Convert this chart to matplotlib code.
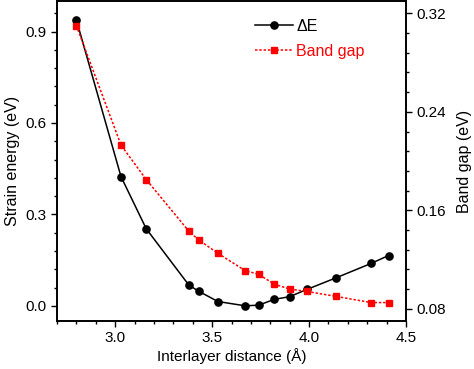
import numpy as np
import matplotlib
matplotlib.use('Agg')
import matplotlib.pyplot as plt
from matplotlib.ticker import MultipleLocator, AutoMinorLocator

plt.rcParams['font.family'] = ['Liberation Sans', 'DejaVu Sans']

# interlayer distance (A)
distance = [2.80, 3.03, 3.16, 3.38, 3.43, 3.53, 3.67, 3.74, 3.82, 3.90, 3.99, 4.14, 4.32, 4.41]
# strain energy dE (eV)
strain = [0.938, 0.424, 0.253, 0.068, 0.048, 0.014, 0.000, 0.002, 0.021, 0.030, 0.054, 0.092, 0.139, 0.165]
# band gap (eV)
gap = [0.310, 0.213, 0.185, 0.143, 0.136, 0.125, 0.111, 0.108, 0.100, 0.096, 0.094, 0.090, 0.085, 0.085]

fig = plt.figure(figsize=(4.74, 3.69), dpi=100)
ax = fig.add_axes([0.1203, 0.130, 0.7362, 0.867])
ax2 = ax.twinx()

l1, = ax.plot(distance, strain, '-o', color='black', lw=1.1, ms=5.2, label='ΔE')
l2, = ax2.plot(distance, gap, 's', ls=(0, (1.6, 1.2)), color='#ff0000', lw=1.1, ms=4.6, label='Band gap')

ax.set_xlim(2.7, 4.5)
ax.set_ylim(-0.05, 1.0)
ax2.set_ylim(0.07, 0.33)

ax.xaxis.set_major_locator(MultipleLocator(0.5))
ax.xaxis.set_minor_locator(MultipleLocator(0.1))
ax.yaxis.set_major_locator(MultipleLocator(0.3))
ax.yaxis.set_minor_locator(AutoMinorLocator(5))
ax2.yaxis.set_major_locator(MultipleLocator(0.08))
ax2.yaxis.set_minor_locator(AutoMinorLocator(5))
ax.xaxis.set_major_formatter(plt.FormatStrFormatter('%.1f'))
ax.yaxis.set_major_formatter(plt.FormatStrFormatter('%.1f'))
ax2.yaxis.set_major_formatter(plt.FormatStrFormatter('%.2f'))

for a in (ax, ax2):
    for s in a.spines.values():
        s.set_linewidth(1.2)
    a.tick_params(which='major', direction='out', length=4, width=1.0, labelsize=11)
    a.tick_params(which='minor', direction='out', length=2.5, width=1.0)
ax.tick_params(axis='y', which='both', right=False)
ax.tick_params(axis='x', which='both', top=False)

ax.set_xlabel('Interlayer distance (Å)', fontsize=11, labelpad=2)
ax.set_ylabel('Strain energy (eV)', fontsize=11.5, labelpad=4)
ax2.set_ylabel('Band gap (eV)', fontsize=11.5, labelpad=8)

leg = ax2.legend(handles=[l1, l2], loc='upper left', bbox_to_anchor=(0.525, 0.99),
                 frameon=False, fontsize=11.5, handlelength=2.4, handletextpad=0.2,
                 labelspacing=0.65, labelcolor='linecolor')

fig.savefig('out.png', dpi=100)
